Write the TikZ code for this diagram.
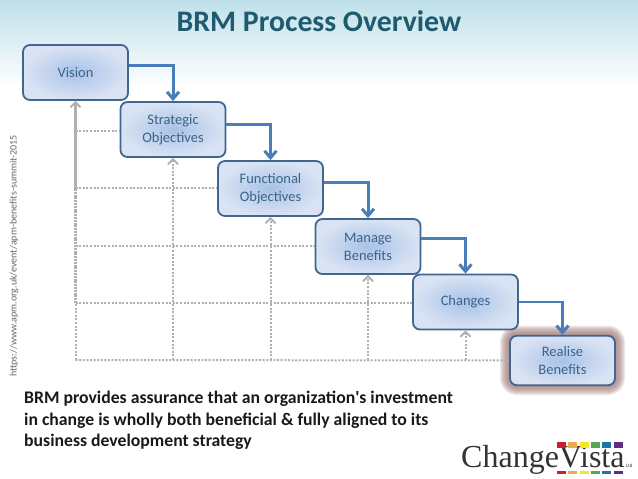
\documentclass[tikz,border=0pt]{standalone}
\usepackage{fontspec}
\setmainfont{Carlito}
\usetikzlibrary{arrows.meta}
\definecolor{edgeblue}{HTML}{41668F}
\definecolor{arrowblue}{HTML}{4A7EBB}
\definecolor{txtblue}{HTML}{3A6488}
\definecolor{inblue}{HTML}{A9C2E8}
\definecolor{outblue}{HTML}{D9E3F3}
\definecolor{titleteal}{HTML}{1F5A6E}
\definecolor{dotgray}{HTML}{B0B0B0}
\definecolor{skytop}{HTML}{BFE0EA}
\definecolor{halo}{HTML}{A07C7A}
\tikzset{
 x=1pt,y=-1pt,
 stepbox/.style={draw=edgeblue,line width=1.8pt,rounded corners=7pt,inner color=inblue,outer color=outblue,minimum width=105pt,minimum height=55pt,inner sep=0pt,align=center,text=txtblue,font=\fontsize{14.5}{18}\selectfont},
 flow/.style={draw=arrowblue,line width=3pt,-{Straight Barb[length=7pt,width=12pt,line width=3pt]}},
 upsolid/.style={draw=dotgray,line width=2.6pt,-{Straight Barb[length=5pt,width=10pt,line width=2pt]}},
 updot/.style={draw=dotgray,line width=2pt,dash pattern=on 2pt off 1.6pt,-{Straight Barb[length=5pt,width=10pt,line width=2pt]}},
 hdot/.style={draw=dotgray,line width=2pt,dash pattern=on 2pt off 1.6pt},
 thickdot/.style={draw=dotgray,line width=2.8pt,dash pattern=on 2pt off .8pt},
}
\begin{document}
\begin{tikzpicture}
\useasboundingbox (0,0) rectangle (638,479);
\shade[top color=skytop,bottom color=white] (0,0) rectangle (638,88);
% halo
\foreach \gr in {10,9,8,7,6,5,4,3,2,1}{
 \fill[halo,opacity=.16,rounded corners=7pt+\gr pt] (510-\gr,335.5-\gr) rectangle (615+\gr,385+\gr);
}
\node[stepbox] (v) at (75.5,72.5) {Vision};
\node[stepbox] (s) at (173,129.5) {Strategic\\Objectives};
\node[stepbox] (f) at (270.5,188.5) {Functional\\Objectives};
\node[stepbox] (m) at (368,246.5) {Manage\\Benefits};
\node[stepbox] (c) at (465.5,302) {Changes};
\node[stepbox,minimum height=49.5pt] (r) at (562.5,360.5) {Realise\\Benefits};
\node[anchor=north,font=\bfseries\fontsize{29.8}{34}\selectfont,text=titleteal] (title) at (319,7) {BRM Process Overview};
\node[rotate=90,anchor=west,inner sep=0pt,font=\fontsize{10}{12}\selectfont,text=black!60] (url) at (14,377) {https://www.apm.org.uk/event/apm-benefits-summit-2015};
% grey
\coordinate (base) at (75.5,360);
\coordinate (h1) at (75.5,130.5);
\coordinate (h2) at (75.5,188);
\coordinate (h3) at (75.5,245.5);
\coordinate (h4) at (75.5,303);
\draw[hdot] (base) -- (r.west);
\draw[hdot] (h1) -- (h1-|s.west);
\draw[hdot] (h2) -- (h2-|f.west);
\draw[hdot] (h3) -- (h3-|m.west);
\draw[hdot] (h4) -- (h4-|c.west);
\draw[hdot] (base) -- (h4);
\draw[thickdot] (h4) -- (h2);
\draw[upsolid] (h2) -- (v.south);
\draw[updot] (base-|s.south) -- (s.south);
\draw[updot] (base-|f.south) -- (f.south);
\draw[updot] (base-|m.south) -- (m.south);
\draw[updot] (base-|c.south) -- (c.south);
% flow
\draw[flow] (v.east|-0,65) -| (s.north);
\draw[flow] (s.east|-0,124) -| (f.north);
\draw[flow] (f.east|-0,182) -| (m.north);
\draw[flow] (m.east|-0,238) -| (c.north);
\draw[flow,line width=2.6pt] (c.east|-0,302) -| (r.north);
\node[anchor=north west,align=left,inner sep=0pt,font=\bfseries\fontsize{17.7}{21.5}\selectfont,text=black!90] (body) at (24,391) {BRM provides assurance that an organization\textquotesingle s investment\\in change is wholly both beneficial \& fully aligned to its\\business development strategy};
% logo
\node[anchor=base west,inner sep=0pt,font=\fontspec{Liberation Serif}\fontsize{32}{32}\selectfont,text=black!80] (logo) at (461,467) {ChangeVista};
\node[anchor=base west,inner sep=0pt,font=\fontsize{5}{6}\selectfont,text=black!80] (ltd) at (626,467) {Ltd};
\foreach \xx/\cc in {557/C8202F,568/EDA94A,580/F2E527,591/55A84F,602/1B75A8,614/5B2D87}{
 \definecolor{tmp}{HTML}{\cc}
 \fill[tmp] (\xx,442) rectangle +(9,6);
 \fill[tmp] (\xx,471) rectangle +(9,2.5);
}
\end{tikzpicture}
\end{document}
